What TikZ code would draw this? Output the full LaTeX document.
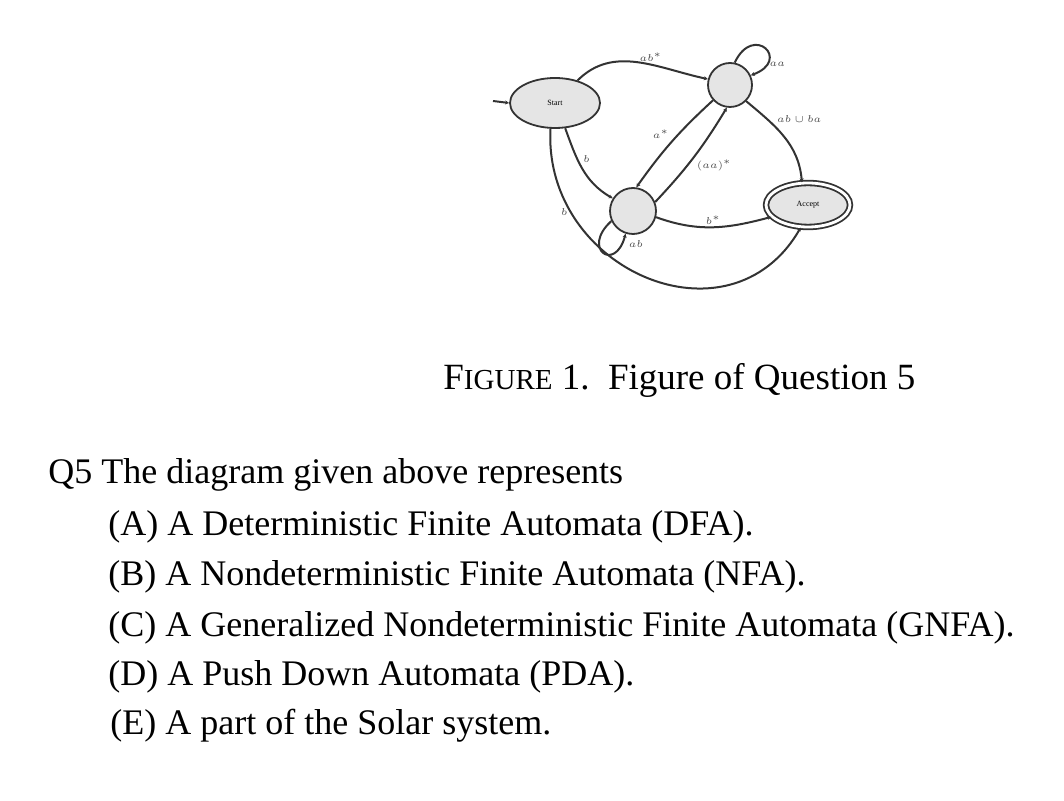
\documentclass[tikz,border=0pt]{standalone}
\usepackage{fontspec}
\setmainfont{Liberation Serif}
\usetikzlibrary{shapes.geometric,arrows.meta}
\begin{document}
\begin{tikzpicture}[x=0.5pt,y=0.5pt,
  st/.style={draw=black!80,line width=0.9pt,fill=black!10,inner sep=0pt},
  edge/.style={draw=black!80,line width=1pt,-{Stealth[length=2pt,width=2pt]}},
  lbl/.style={font=\fontsize{3.5}{4}\selectfont,text=black!70,inner sep=1pt},
  txt/.style={anchor=base west,inner sep=0pt,font=\fontsize{18}{21}\selectfont}]
\useasboundingbox (0,0) rectangle (1064,-801);
% states
\node[st,ellipse,minimum width=45pt,minimum height=25pt,font=\fontsize{4}{5}\selectfont] (start) at (555,-103) {Start};
\node[st,circle,minimum size=22pt] (q1) at (730,-85) {};
\node[st,circle,minimum size=23pt] (q2) at (633,-211) {};
\node[st,ellipse,minimum width=42pt,minimum height=22pt,double=white,double distance=1.4pt,font=\fontsize{4}{5}\selectfont] (acc) at (808,-205) {Accept};
\coordinate (init) at (493,-101);
% edges
\draw[edge] (init) -- (start.west);
\draw[edge] (start.45) to[out=45,in=168] node[lbl,above,pos=0.6] {$ab^*$} (q1.165);
\draw[edge] (q1.78) to[out=65,in=20,looseness=5.5] node[lbl,right,pos=0.8] {$aa$} (q1.25);
\draw[edge] (q1.-45) to[out=-40,in=95] node[lbl,above right,pos=0.35] {$ab\cup ba$} (acc.105);
\draw[edge] (q1.222) to[bend right=6] node[lbl,above left,pos=0.5] {$a^*$} (q2.82);
\draw[edge] (q2.22) to[bend right=6] node[lbl,below right,pos=0.5] {$(aa)^*$} (q1.-98);
\draw[edge] (start.-68) to[out=-70,in=150] node[lbl,above right,pos=0.45] {$b$} (q2.148);
\draw[edge] (q2.205) to[out=222,in=255,looseness=5.5] node[lbl,right,pos=0.9,xshift=2pt] {$ab$} (q2.252);
\draw[edge] (q2.-15) to[out=-20,in=195] node[lbl,above,pos=0.5] {$b^*$} (acc.198);
\draw[edge] (start.-100) to[out=-93,in=-120,looseness=1.35] node[lbl,left,pos=0.22] {$b$} (acc.-108);
% caption and question
\node[txt] (cap) at (443,-390) {\fontsize{18.5}{21}\selectfont F{\fontsize{14.5}{16}\selectfont IGURE} 1.\enspace Figure of Question 5};
\node[txt] (q) at (48,-483) {Q5 The diagram given above represents};
\node[txt] (a) at (108,-535) {(A) A Deterministic Finite Automata (DFA).};
\node[txt] (b) at (108,-585) {(B) A Nondeterministic Finite Automata (NFA).};
\node[txt] (c) at (108,-636) {(C) A Generalized Nondeterministic Finite Automata (GNFA).};
\node[txt] (d) at (108,-685) {(D) A Push Down Automata (PDA).};
\node[txt] (e) at (110,-734) {(E) A part of the Solar system.};
\end{tikzpicture}
\end{document}
